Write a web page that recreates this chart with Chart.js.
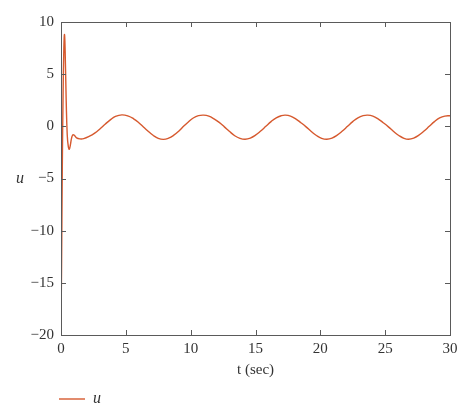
<!DOCTYPE html>
<html>
<head>
<meta charset="utf-8">
<script src="https://cdn.jsdelivr.net/npm/chart.js@4"></script>
<style>
  html, body { margin: 0; padding: 0; background: #fff; }
  #wrap { width: 474px; height: 420px; }
</style>
</head>
<body>
<div id="wrap"><canvas id="chart"></canvas></div>
<script>
// time samples (sec) and control signal u
const times = [
  0, 0.04, 0.1, 0.16, 0.22, 0.27, 0.32, 0.4, 0.48, 0.56, 0.64, 0.72, 0.82, 0.92, 1.02,
  1.2, 1.45, 1.75, 2.2, 2.6, 3.0, 3.4, 3.8, 4.2, 4.7, 5.2, 5.6, 6.0, 6.3, 6.7,
  7.1, 7.5, 7.9, 8.3, 8.7, 9.1, 9.45, 9.8, 10.2, 10.6, 11.0, 11.4, 11.8, 12.2, 12.6,
  13.0, 13.4, 13.8, 14.2, 14.6, 15.0, 15.4, 15.8, 16.2, 16.6, 17.0, 17.3, 17.7, 18.1, 18.5,
  18.9, 19.3, 19.7, 20.1, 20.5, 20.9, 21.3, 21.7, 22.1, 22.5, 22.9, 23.3, 23.65, 24.05, 24.45,
  24.85, 25.25, 25.65, 26.05, 26.45, 26.8, 27.2, 27.6, 28.0, 28.4, 28.8, 29.2, 29.6, 30.0
];
const uValues = [
  -18.6, -14, -4, 3, 7.5, 8.8, 7.2, 2.5, -0.8, -1.9, -2.2, -1.8, -1.1, -0.8, -0.85,
  -1.1, -1.2, -1.18, -0.95, -0.65, -0.25, 0.2, 0.62, 0.95, 1.1, 0.98, 0.72, 0.35, 0.0, -0.45,
  -0.85, -1.15, -1.25, -1.13, -0.85, -0.45, 0.0, 0.4, 0.8, 1.02, 1.07, 0.98, 0.72, 0.38, -0.05,
  -0.5, -0.9, -1.15, -1.24, -1.13, -0.85, -0.45, 0.0, 0.45, 0.82, 1.02, 1.07, 0.98, 0.72, 0.35,
  -0.05, -0.5, -0.88, -1.15, -1.24, -1.13, -0.85, -0.45, 0.0, 0.45, 0.82, 1.02, 1.07, 0.98, 0.72,
  0.35, -0.05, -0.5, -0.88, -1.15, -1.24, -1.13, -0.85, -0.45, 0.0, 0.45, 0.8, 0.98, 1.02
];
const xTicks = [0, 5, 10, 15, 20, 25, 30];
const yTicks = [-20, -15, -10, -5, 0, 5, 10];

const serif = '"Liberation Serif", "DejaVu Serif", serif';
const lineColor = '#d6592e';
const frameColor = '#5a5a5a';
const textColor = '#333';

// frame box with inward tick marks on all four sides, plus the upright y label
const frameTicks = {
  id: 'frameTicks',
  afterLayout(chart) {
    // legend starts under the plot's left edge
    if (chart.legend) chart.legend.left += chart.chartArea.left - 10;
  },
  afterDraw(chart) {
    const { ctx, chartArea: a, scales } = chart;
    const len = 5;
    ctx.save();
    ctx.strokeStyle = frameColor;
    ctx.lineWidth = 1;
    ctx.strokeRect(a.left + 0.5, a.top + 0.5, a.right - a.left, a.bottom - a.top);
    ctx.beginPath();
    xTicks.forEach(v => {
      const px = Math.round(scales.x.getPixelForValue(v)) + 0.5;
      ctx.moveTo(px, a.bottom); ctx.lineTo(px, a.bottom - len);
      ctx.moveTo(px, a.top); ctx.lineTo(px, a.top + len);
    });
    yTicks.forEach(v => {
      const py = Math.round(scales.y.getPixelForValue(v)) + 0.5;
      ctx.moveTo(a.left, py); ctx.lineTo(a.left + len, py);
      ctx.moveTo(a.right, py); ctx.lineTo(a.right - len, py);
    });
    ctx.stroke();
    ctx.fillStyle = textColor;
    ctx.font = 'italic 16px ' + serif;
    ctx.textAlign = 'center';
    ctx.textBaseline = 'middle';
    ctx.fillText('u', 20, (a.top + a.bottom) / 2);
    ctx.restore();
  }
};

const fmt = v => String(v).replace('-', '\u2212');

new Chart(document.getElementById('chart'), {
  type: 'line',
  data: {
    datasets: [{
      label: 'u',
      data: times.map((t, i) => ({ x: t, y: uValues[i] })),
      borderColor: lineColor,
      backgroundColor: lineColor,
      borderWidth: 1.4,
      pointRadius: 0,
      tension: 0.45,
      fill: false
    }]
  },
  options: {
    responsive: true,
    maintainAspectRatio: false,
    animation: false,
    layout: { padding: { top: 22, right: 24, left: 0, bottom: 3 } },
    scales: {
      x: {
        type: 'linear',
        min: 0, max: 30,
        afterBuildTicks: s => { s.ticks = xTicks.map(v => ({ value: v })); },
        afterFit: s => { s.height = 48; },
        grid: { display: false, drawTicks: false },
        border: { display: false },
        ticks: {
          padding: 5,
          color: textColor,
          font: { family: serif, size: 15 },
          callback: v => fmt(v),
          maxRotation: 0
        },
        title: {
          display: true,
          text: 't (sec)',
          color: textColor,
          padding: { top: 0, bottom: 4 },
          font: { family: serif, size: 15 }
        }
      },
      y: {
        min: -20, max: 10,
        afterBuildTicks: s => { s.ticks = yTicks.map(v => ({ value: v })); },
        afterFit: s => { s.width = 61; },
        grid: { display: false, drawTicks: false },
        border: { display: false },
        ticks: {
          padding: 7,
          color: textColor,
          font: { family: serif, size: 15 },
          callback: v => fmt(v)
        },
        title: { display: false }
      }
    },
    plugins: {
      tooltip: { enabled: false },
      legend: {
        position: 'bottom',
        align: 'start',
        labels: {
          usePointStyle: true,
          pointStyle: 'line',
          pointStyleWidth: 26,
          boxHeight: 15,
          padding: 8,
          color: textColor,
          font: { family: serif, size: 16, style: 'italic' }
        }
      }
    }
  },
  plugins: [frameTicks]
});
</script>
</body>
</html>
